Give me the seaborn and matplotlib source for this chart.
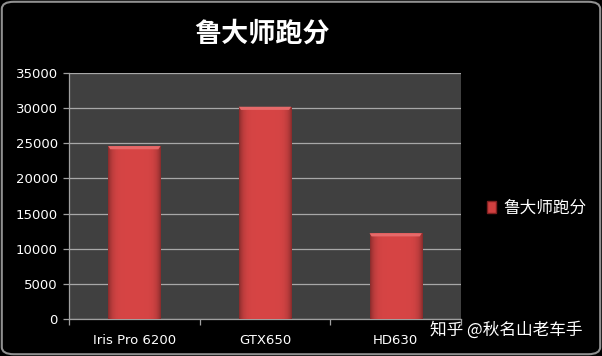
import numpy as np
import pandas as pd
import matplotlib
matplotlib.use("Agg")
import matplotlib.pyplot as plt
import seaborn as sns
from matplotlib.patches import FancyBboxPatch, Patch

categories = ["Iris Pro 6200", "GTX650", "HD630"]
scores = [24600, 30200, 12200]
series_name = "鲁大师跑分"
yticks = [0, 5000, 10000, 15000, 20000, 25000, 30000, 35000]

df = pd.DataFrame({"gpu": categories, "score": scores})

sns.set_theme(style="dark")
plt.rcParams['font.family'] = ['Noto Sans CJK SC', 'DejaVu Sans']

fig = plt.figure(figsize=(6.02, 3.56), dpi=100)
fig.patch.set_facecolor("black")
ax = fig.add_axes([69/602, 1-319/356, (461-69)/602, (319-73)/356])
ax.set_facecolor("#404040")

sns.barplot(data=df, x="gpu", y="score", color="#d04040", width=0.4,
            ax=ax, saturation=1, zorder=3, linewidth=0)

# horizontal gradient overlay on bars
n = 64
g = np.linspace(-1, 1, n)
shade = 1 - 0.35 * np.abs(g) ** 6
img = np.zeros((1, n, 4))
base = np.array([0.84, 0.27, 0.27])
for i, s in enumerate(shade):
    img[0, i, :3] = base * s
img[0, :, 3] = 1
for p in ax.patches:
    x0, y0 = p.get_x(), p.get_y()
    w, h = p.get_width(), p.get_height()
    im = ax.imshow(img, extent=[x0, x0 + w, y0, y0 + h], aspect="auto", zorder=4)
    im.set_clip_path(p)
    inset = w * 0.04
    ax.fill([x0, x0 + w, x0 + w - inset, x0 + inset], [y0 + h, y0 + h, y0 + h - 450, y0 + h - 450],
            color="#e66a6a", zorder=5, lw=0)

ax.set_xlim(-0.5, 2.5)
ax.set_ylim(0, 35000)
ax.set_yticks(yticks)
ax.set_yticklabels([str(v) for v in yticks])
ax.set_xticks(range(len(categories)))
ax.set_xticklabels(categories)
ax.set_xlabel("")
ax.set_ylabel("")
ax.yaxis.grid(True, color="#a8a8a8", lw=0.9, zorder=1)
ax.xaxis.grid(False)
ax.set_axisbelow(True)
for side in ["top", "right"]:
    ax.spines[side].set_visible(False)
for side in ["left", "bottom"]:
    ax.spines[side].set_visible(True)
    ax.spines[side].set_color("#a0a0a0")
    ax.spines[side].set_linewidth(0.9)
ax.tick_params(axis="y", colors="white", length=4, width=0.9,
               left=True, pad=4, color="#a0a0a0")
ax.tick_params(axis="x", colors="white", length=0, pad=11)
for lab in ax.get_xticklabels() + ax.get_yticklabels():
    lab.set_color("white")
    lab.set_fontfamily("DejaVu Sans")
    lab.set_fontsize(9.5)
ax.set_xticks([-0.5, 0.5, 1.5, 2.5], minor=True)
ax.tick_params(axis="x", which="minor", length=4, color="#a0a0a0", width=0.9, bottom=True)

fig.text(262/602, 1-34/356, "鲁大师跑分", color="white", fontsize=19.5,
         fontweight="bold", ha="center", va="center")

handle = Patch(facecolor="#d04040", edgecolor="#802020")
leg = fig.legend([handle], [series_name], loc="center left",
                 bbox_to_anchor=(472/602, 1-208/356), frameon=False,
                 handlelength=0.55, handleheight=0.75, handletextpad=0.45,
                 prop={"size": 12, "family": ["Noto Sans CJK SC", "DejaVu Sans"]})
for t in leg.get_texts():
    t.set_color("white")

fig.text(506/602, 1-330/356, "知乎 @秋名山老车手", color="white", fontsize=12,
         ha="center", va="center")

border = FancyBboxPatch((0.003, 0.005), 0.994, 0.99, boxstyle="round,pad=0,rounding_size=0.02",
                        transform=fig.transFigure, facecolor="none", edgecolor="#909090",
                        lw=1.5, zorder=10)
fig.patches.append(border)

fig.savefig("out.png", dpi=100, facecolor="black")
